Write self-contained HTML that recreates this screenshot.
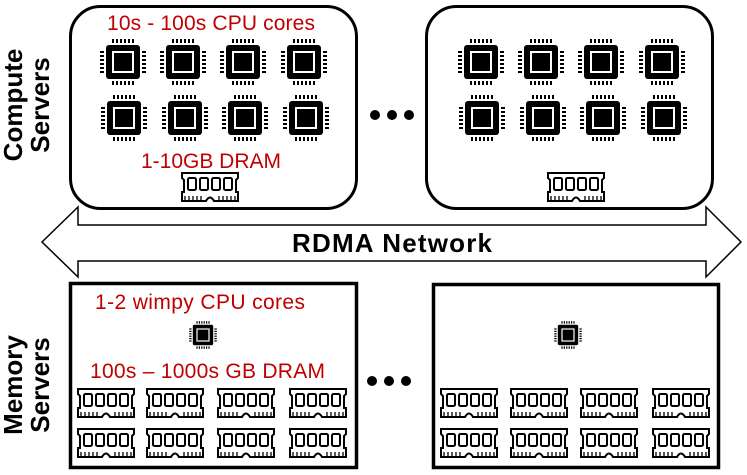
<!DOCTYPE html>
<html><head><meta charset="utf-8"><style>
body{margin:0;background:#fff}
svg{display:block}
text{font-family:"Liberation Sans",sans-serif}
.red{fill:#c00000;font-size:21px}
</style></head><body>
<svg width="747" height="475" viewBox="0 0 747 475">
<defs>
<g id="chip">
<rect x="-17" y="-17" width="34" height="34" rx="3" fill="#000"/>
<rect x="-11" y="-11" width="22" height="22" fill="#fff"/>
<rect x="-9" y="-9" width="18" height="18" fill="#000"/>
<g fill="#000">
<rect x="-11" y="-23" width="2" height="4"/><rect x="-7" y="-23" width="2" height="4"/><rect x="-3" y="-23" width="2" height="4"/><rect x="1" y="-23" width="2" height="4"/><rect x="5" y="-23" width="2" height="4"/><rect x="9" y="-23" width="2" height="4"/>
<rect x="-11" y="19" width="2" height="4"/><rect x="-7" y="19" width="2" height="4"/><rect x="-3" y="19" width="2" height="4"/><rect x="1" y="19" width="2" height="4"/><rect x="5" y="19" width="2" height="4"/><rect x="9" y="19" width="2" height="4"/>
<rect y="-11" x="-23" height="2" width="4"/><rect y="-7" x="-23" height="2" width="4"/><rect y="-3" x="-23" height="2" width="4"/><rect y="1" x="-23" height="2" width="4"/><rect y="5" x="-23" height="2" width="4"/><rect y="9" x="-23" height="2" width="4"/>
<rect y="-11" x="19" height="2" width="4"/><rect y="-7" x="19" height="2" width="4"/><rect y="-3" x="19" height="2" width="4"/><rect y="1" x="19" height="2" width="4"/><rect y="5" x="19" height="2" width="4"/><rect y="9" x="19" height="2" width="4"/>
</g></g>
<g id="dram" fill="none" stroke="#000" stroke-width="2">
<path d="M-28,-14 H28 V-9 L26,-7 V5 H28 V14 H4 Q0,7 -4,14 H-28 V5 H-26 V-7 L-28,-9 Z"/>
<rect x="-22" y="-9" width="8" height="12" rx="1.5"/>
<rect x="-10" y="-9" width="8" height="12" rx="1.5"/>
<rect x="2" y="-9" width="8" height="12" rx="1.5"/>
<rect x="14" y="-9" width="8" height="12" rx="1.5"/>
<path d="M-25,14 V9 M-21,14 V9 M-17,14 V9 M-13,14 V9 M-9,14 V9 M9,14 V9 M13,14 V9 M17,14 V9 M21,14 V9 M25,14 V9" stroke-width="1.3"/>
</g>
</defs>
<rect x="70.5" y="6.5" width="286" height="202" rx="30" fill="none" stroke="#000" stroke-width="3"/>
<rect x="426.5" y="6.5" width="286" height="202" rx="30" fill="none" stroke="#000" stroke-width="3"/>
<text x="211" y="30" text-anchor="middle" class="red" textLength="208">10s - 100s CPU cores</text>
<text x="211" y="168" text-anchor="middle" class="red" textLength="140">1-10GB DRAM</text>
<g>
<use href="#chip" x="123" y="62"/><use href="#chip" x="183" y="62"/><use href="#chip" x="243" y="62"/><use href="#chip" x="304" y="62"/>
<use href="#chip" x="124" y="118"/><use href="#chip" x="185" y="118"/><use href="#chip" x="245" y="118"/><use href="#chip" x="306" y="118"/>
<use href="#chip" x="481" y="62"/><use href="#chip" x="541" y="62"/><use href="#chip" x="601" y="62"/><use href="#chip" x="662" y="62"/>
<use href="#chip" x="482" y="118"/><use href="#chip" x="543" y="118"/><use href="#chip" x="603" y="118"/><use href="#chip" x="664" y="118"/>
</g>
<use href="#dram" x="210" y="187"/>
<use href="#dram" x="576" y="187"/>
<g fill="#000"><circle cx="375" cy="115" r="5"/><circle cx="392" cy="115" r="5"/><circle cx="409" cy="115" r="5"/>
<circle cx="372" cy="381" r="5"/><circle cx="389" cy="381" r="5"/><circle cx="406" cy="381" r="5"/></g>
<path d="M42,242 L78,207 V225 H706 V207 L741,242 L706,277 V261 H78 V277 Z" fill="#fff" stroke="#000" stroke-width="1.5"/>
<text x="392" y="252" text-anchor="middle" font-weight="bold" font-size="26" textLength="200">RDMA Network</text>
<rect x="70.5" y="283.5" width="286" height="184" fill="none" stroke="#000" stroke-width="3.5"/>
<rect x="433.5" y="284.5" width="285" height="183" fill="none" stroke="#000" stroke-width="3.5"/>
<text x="95" y="309" class="red" textLength="210">1-2 wimpy CPU cores</text>
<text x="90" y="378" class="red" textLength="235">100s – 1000s GB DRAM</text>
<use href="#chip" transform="translate(203 335) scale(0.6)"/>
<use href="#chip" transform="translate(568 335) scale(0.6)"/>
<g>
<use href="#dram" x="106" y="403"/><use href="#dram" x="175" y="403"/><use href="#dram" x="246" y="403"/><use href="#dram" x="318" y="403"/>
<use href="#dram" x="106" y="443"/><use href="#dram" x="175" y="443"/><use href="#dram" x="246" y="443"/><use href="#dram" x="318" y="443"/>
<use href="#dram" x="469" y="403"/><use href="#dram" x="539" y="403"/><use href="#dram" x="609" y="403"/><use href="#dram" x="681" y="403"/>
<use href="#dram" x="469" y="443"/><use href="#dram" x="539" y="443"/><use href="#dram" x="609" y="443"/><use href="#dram" x="681" y="443"/>
</g>
<g font-weight="bold" font-size="26" text-anchor="middle">
<text transform="translate(27 105) rotate(-90)"><tspan x="0" y="-5">Compute</tspan><tspan x="0" y="22">Servers</tspan></text>
<text transform="translate(27 385) rotate(-90)"><tspan x="0" y="-5">Memory</tspan><tspan x="0" y="22">Servers</tspan></text>
</g>
</svg>
</body></html>
